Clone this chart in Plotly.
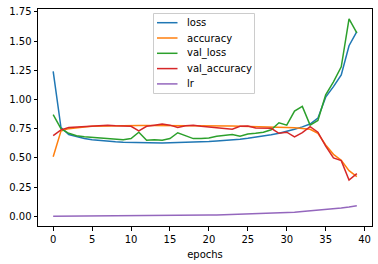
import plotly.graph_objects as go

epochs = list(range(40))
loss = [1.24, 0.76, 0.70, 0.68, 0.665, 0.655, 0.647, 0.641, 0.637, 0.634, 0.632, 0.630, 0.629, 0.628, 0.628, 0.629, 0.630, 0.632, 0.634, 0.637,
        0.640, 0.644, 0.648, 0.653, 0.660, 0.667, 0.676, 0.686, 0.697, 0.710, 0.725, 0.745, 0.765, 0.79, 0.84, 1.02, 1.11, 1.21, 1.46, 1.58]
accuracy = [0.51, 0.73, 0.75, 0.76, 0.765, 0.77, 0.772, 0.775, 0.776, 0.777, 0.777, 0.778, 0.778, 0.778, 0.778, 0.777, 0.777, 0.776, 0.776, 0.775,
            0.775, 0.774, 0.773, 0.772, 0.771, 0.770, 0.768, 0.766, 0.764, 0.762, 0.760, 0.757, 0.752, 0.745, 0.71, 0.61, 0.53, 0.48, 0.39, 0.34]
val_loss = [0.87, 0.75, 0.71, 0.69, 0.68, 0.675, 0.67, 0.665, 0.665, 0.655, 0.665, 0.72, 0.65, 0.655, 0.65, 0.665, 0.715, 0.69, 0.665, 0.665,
            0.67, 0.685, 0.69, 0.70, 0.685, 0.705, 0.71, 0.72, 0.74, 0.80, 0.78, 0.90, 0.94, 0.78, 0.82, 1.04, 1.15, 1.28, 1.69, 1.57]
val_accuracy = [0.69, 0.74, 0.76, 0.765, 0.77, 0.775, 0.78, 0.78, 0.775, 0.775, 0.77, 0.73, 0.77, 0.78, 0.79, 0.78, 0.76, 0.775, 0.78, 0.77,
                0.765, 0.755, 0.75, 0.745, 0.77, 0.773, 0.755, 0.755, 0.753, 0.71, 0.72, 0.68, 0.716, 0.767, 0.72, 0.60, 0.50, 0.476, 0.31, 0.365]
lr = [0.001, 0.0011, 0.0013, 0.0014, 0.0016, 0.0018, 0.002, 0.0022, 0.0025, 0.0028, 0.0032, 0.0035, 0.004, 0.0045, 0.005, 0.0056, 0.0063,
      0.0071, 0.0079, 0.0089, 0.01, 0.011, 0.013, 0.014, 0.016, 0.018, 0.02, 0.022, 0.025, 0.028, 0.032, 0.035, 0.04, 0.045, 0.05, 0.056,
      0.063, 0.071, 0.079, 0.089]

series = [("loss", loss, "#1f77b4"), ("accuracy", accuracy, "#ff7f0e"), ("val_loss", val_loss, "#2ca02c"),
          ("val_accuracy", val_accuracy, "#d62728"), ("lr", lr, "#9467bd")]
x_ticks = [0, 5, 10, 15, 20, 25, 30, 35, 40]
y_ticks = [0, 0.25, 0.5, 0.75, 1.0, 1.25, 1.5, 1.75]

W, H = 378, 264
ML, MR, MT, MB = 38, 6, 9, 38
PW, PH = W - ML - MR, H - MT - MB

def px_x(p):
    return (p - ML) / PW

def px_y(p):
    return (H - MB - p) / PH

fig = go.Figure()
for name, vals, col in series:
    fig.add_trace(go.Scatter(x=epochs, y=vals, mode="lines", name=name, line=dict(color=col, width=1.5),
                             showlegend=False))

allv = [v for _, vals, _ in series for v in vals]
ymin, ymax = min(allv), max(allv)
ypad = 0.05 * (ymax - ymin)
xpad = 0.05 * (epochs[-1] - epochs[0])

axis_common = dict(showgrid=False, zeroline=False, showline=True, linecolor="black", linewidth=1, mirror=True,
                   ticks="outside", ticklen=3.5, tickwidth=1, tickcolor="black",
                   tickfont=dict(family="DejaVu Sans", size=10, color="black"))
fig.update_xaxes(range=[epochs[0] - xpad, epochs[-1] + xpad], tickvals=x_ticks,
                 title=dict(text="epochs", font=dict(family="DejaVu Sans", size=10, color="black"), standoff=7),
                 **axis_common)
fig.update_yaxes(range=[ymin - ypad, ymax + ypad], tickvals=y_ticks, tickformat=".2f", **axis_common)

# custom legend (matplotlib style)
shapes = [dict(type="rect", xref="paper", yref="paper", x0=px_x(153.5), x1=px_x(254.5), y0=px_y(93.5), y1=px_y(13.5),
               line=dict(color="#cccccc", width=1), fillcolor="rgba(255,255,255,0.8)", layer="above")]
annotations = []
for i, (name, _, col) in enumerate(series):
    yc = 22.7 + i * 15.3
    shapes.append(dict(type="line", xref="paper", yref="paper", x0=px_x(157), x1=px_x(177.5), y0=px_y(yc), y1=px_y(yc),
                       line=dict(color=col, width=1.5), layer="above"))
    annotations.append(dict(xref="paper", yref="paper", x=px_x(184.5), y=px_y(yc), text=name, showarrow=False,
                            xanchor="left", yanchor="middle", font=dict(family="DejaVu Sans", size=10, color="black")))

fig.update_layout(
    width=W, height=H,
    margin=dict(l=ML, r=MR, t=MT, b=MB),
    paper_bgcolor="white", plot_bgcolor="white",
    font=dict(family="DejaVu Sans", size=10, color="black"),
    shapes=shapes, annotations=annotations,
    showlegend=False,
)
fig.write_html("out.html")
